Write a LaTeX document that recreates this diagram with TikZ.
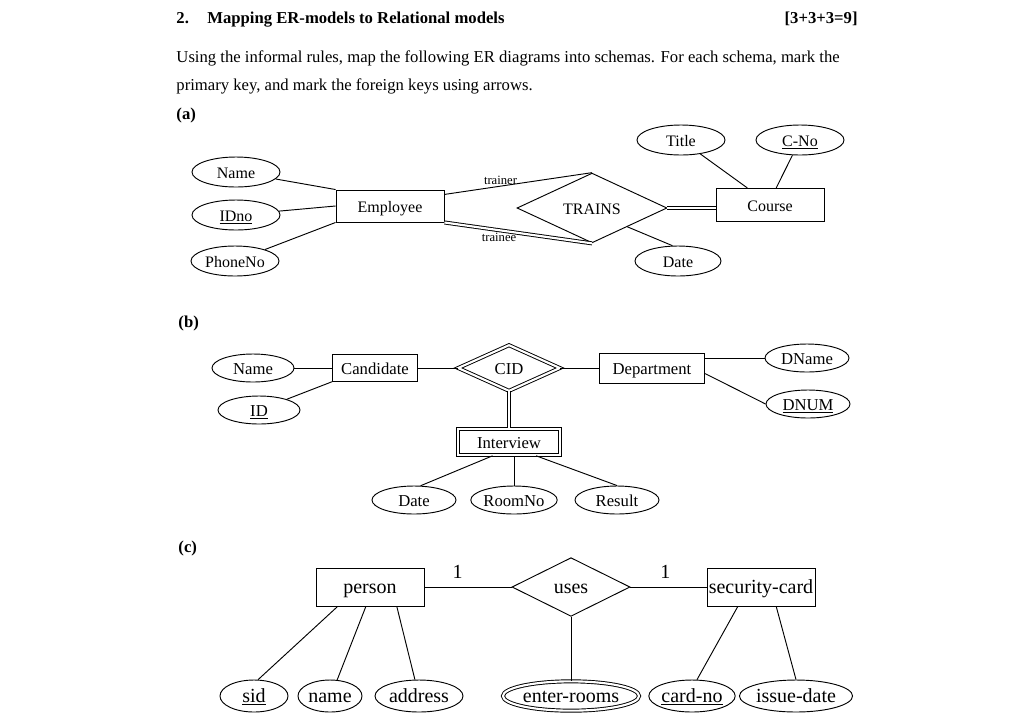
\documentclass[tikz,border=0pt]{standalone}
\usepackage{fontspec}
\setmainfont{Liberation Serif}
\usetikzlibrary{shapes.geometric}
\begin{document}
\begin{tikzpicture}[x=0.75pt,y=-0.75pt,line width=0.7pt,
		ent/.style={draw,rectangle,inner sep=0pt,text height=0.9em,text depth=0pt},
		attr/.style={draw,ellipse,inner sep=0pt,text height=0.9em,text depth=0pt},
		rel/.style={draw,diamond,inner sep=0pt,text height=0.9em,text depth=0pt},
		dbl/.style={double,double distance=1.6pt},
		role/.style={font=\fontsize{9.5}{10}\selectfont,inner sep=0.5pt},
		card/.style={font=\fontsize{15}{16}\selectfont,inner sep=6pt},
		txt/.style={anchor=base west,inner sep=0pt,font=\fontsize{12.5}{14}\selectfont}]
				\useasboundingbox[fill=white] (0,0) rectangle (1024,726);
				% Kopf
				\node[txt,font=\fontsize{12.5}{14}\selectfont\bfseries] (head) at (176,23) {2.\hspace{1.1em}Mapping ER-models to Relational models};
				\node[txt,anchor=base east,font=\fontsize{12.5}{14}\selectfont\bfseries] (marks) at (858,23) {[3+3+3=9]};
				\node[txt] (line1) at (176,62) {Using the informal rules, map the following ER diagrams into schemas. For each schema, mark the};
				\node[txt] (line2) at (176,90) {primary key, and mark the foreign keys using arrows.};
				\node[txt,font=\fontsize{12.5}{14}\selectfont\bfseries] (parta) at (176,119) {(a)};
				\node[txt,font=\fontsize{12.5}{14}\selectfont\bfseries] (partb) at (178,327) {(b)};
				\node[txt,font=\fontsize{12.5}{14}\selectfont\bfseries] (partc) at (178,552) {(c)};
				% Teil (a)
				\begin{scope}[font=\fontsize{12}{14}\selectfont]
					\node[attr,minimum width=66pt,minimum height=22.5pt] (aname) at (236,172) {Name};
					\node[attr,minimum width=66pt,minimum height=22.5pt] (aidno) at (236,215) {\underline{IDno}};
					\node[attr,minimum width=66pt,minimum height=22.5pt] (aphone) at (235,261) {PhoneNo};
					\node[ent,minimum width=81pt,minimum height=24pt] (emp) at (390,206) {Employee};
					\node[rel,minimum width=112.5pt,minimum height=37.5pt] (trains) at (592,208) {TRAINS};
					\node[ent,minimum width=81pt,minimum height=25pt] (course) at (770,205) {Course};
					\node[attr,minimum width=66pt,minimum height=22.5pt] (atitle) at (681,140) {Title};
					\node[attr,minimum width=66pt,minimum height=22.5pt] (acno) at (800,140) {\underline{C-No}};
					\node[attr,minimum width=64.5pt,minimum height=22.5pt] (adate) at (678,261) {Date};
				\end{scope}
				\draw (aname) -- (emp.north west);
				\draw (aidno) -- (emp.west);
				\draw (aphone) -- (emp.south west);
				\draw (emp.12) -- node[role,above,pos=0.38] {trainer} (trains.north);
				\draw[dbl] (emp.south east) -- node[role,below=1.5pt,pos=0.37] {trainee} (trains.south);
				\draw[dbl] (trains.east) -- (trains.east -| course.west);
				\draw (atitle) -- (course.143);
				\draw (acno) -- (course.70);
				\draw (trains.-28) -- (adate.110);
				% Teil (b)
				\begin{scope}[font=\fontsize{12.5}{14}\selectfont]
					\node[attr,minimum width=61.5pt,minimum height=21pt] (bname) at (253,368) {Name};
					\node[attr,minimum width=61.5pt,minimum height=21pt] (bid) at (259,410) {\underline{ID}};
					\node[ent,minimum width=64pt,minimum height=20pt] (cand) at (375,368) {Candidate};
					\node[rel,dbl,minimum width=76.5pt,minimum height=34.5pt] (cid) at (509,368) {CID};
					\node[ent,minimum width=79pt,minimum height=22.5pt] (dept) at (652,368) {Department};
					\node[attr,minimum width=63pt,minimum height=21pt] (dname) at (807,358) {DName};
					\node[attr,minimum width=63pt,minimum height=21pt] (dnum) at (808,404) {\underline{DNUM}};
					\node[ent,dbl,minimum width=76pt,minimum height=20pt] (intv) at (509,442) {Interview};
					\node[attr,minimum width=63pt,minimum height=21pt] (bdate) at (414,500) {Date};
					\node[attr,minimum width=63pt,minimum height=21pt] (room) at (514,500) {RoomNo};
					\node[attr,minimum width=63pt,minimum height=21pt] (result) at (617,500) {Result};
				\end{scope}
				\draw (bname) -- (cand);
				\draw (bid) -- (cand.south west);
				\draw (cand) -- (cid);
				\draw (cid) -- (dept);
				\draw (dname.west) -- (dname.west -| dept.east);
				\draw (dept.-6) -- (dnum.west);
				\draw[dbl] (cid) -- (intv);
				\draw (intv.-140) -- (bdate.65);
				\draw (room.north) -- (room.north |- intv.south);
				\draw (intv.-27) -- (result.north);
				% Teil (c)
				\begin{scope}[font=\fontsize{15}{16}\selectfont]
					\node[ent,minimum width=81pt,minimum height=28.5pt] (person) at (370,587) {person};
					\node[rel,minimum width=88.5pt,minimum height=44pt] (uses) at (571,587) {uses};
					\node[ent,minimum width=81pt,minimum height=28.5pt] (seccard) at (761,587) {security-card};
					\node[attr,minimum width=51pt,minimum height=24pt] (sid) at (254,696) {\underline{sid}};
					\node[attr,minimum width=48pt,minimum height=24pt] (pname) at (330,696) {name};
					\node[attr,minimum width=66pt,minimum height=24pt] (addr) at (419,696) {address};
					\node[attr,dbl,minimum width=87pt,minimum height=22pt] (rooms) at (571,696) {enter-rooms};
					\node[attr,minimum width=64.5pt,minimum height=24pt] (cardno) at (692,696) {\underline{card-no}};
					\node[attr,minimum width=66pt,minimum height=24pt] (issue) at (796,696) {issue-date};
				\end{scope}
				\draw (person) -- node[card,above,pos=0.38] {1} (uses);
				\draw (uses) -- node[card,above,pos=0.46] {1} (seccard);
				\draw (person.-149) -- (sid.76);
				\draw (person.-102) -- (pname.66);
				\draw (person.-36) -- (addr.104);
				\draw (uses.south) -- (rooms.north);
				\draw (seccard.-140) -- (cardno.73);
				\draw (seccard.-52) -- (issue.north);
			\end{tikzpicture}
\end{document}
